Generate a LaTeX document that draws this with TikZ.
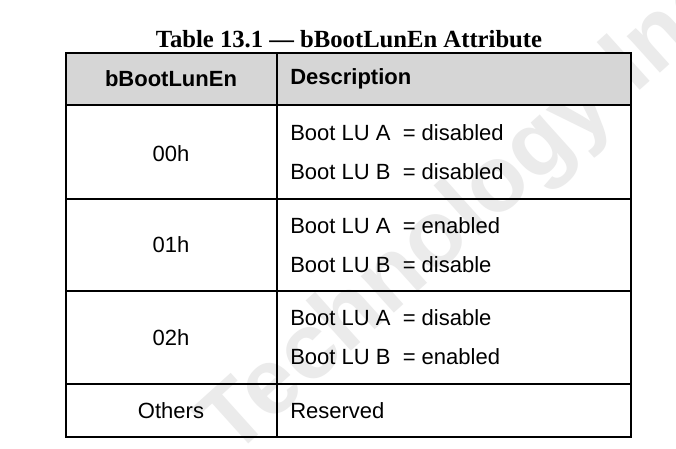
\documentclass[tikz,border=0pt]{standalone}
\usepackage{fontspec}
\setmainfont{Liberation Sans}
\newfontfamily\titlefont{Liberation Serif}
\begin{document}
\begin{tikzpicture}[x=0.75pt,y=-0.75pt,
  cell/.style={font=\fontsize{16.5pt}{18pt}\selectfont, inner sep=0pt},
  grid/.style={line width=1pt, black}]
\useasboundingbox (0,0) rectangle (676,449);
\fill[white] (0,0) rectangle (676,449);
\node[rotate=42, text=black!8, font=\fontsize{70pt}{72pt}\selectfont\bfseries, anchor=center] (wm) at (478,205) {Technology Inc.};
\fill[black!16] (66,53) rectangle (631,105);
\node[font=\titlefont\bfseries\fontsize{18.5pt}{20pt}\selectfont] (title) at (349,39) {Table 13.1 — bBootLunEn Attribute};
\draw[grid] (66,53) rectangle (631,437);
\draw[grid] (277,53) -- (277,437);
\foreach \y in {105,199,291,384} \draw[grid] (66,\y) -- (631,\y);
\node[cell,font=\fontsize{16.5pt}{18pt}\selectfont\bfseries] (h1) at (171,79) {bBootLunEn};
\node[cell,font=\fontsize{16.5pt}{18pt}\selectfont\bfseries,anchor=west] (h2) at (290,79) {Description};
\node[cell] (r1) at (171,154) {00h};
\node[cell] (r2) at (171,245) {01h};
\node[cell] (r3) at (171,338) {02h};
\node[cell] (r4) at (171,411) {Others};
\node[cell,anchor=west] (d1a) at (290,133) {Boot LU A~ = disabled};
\node[cell,anchor=west] (d1b) at (290,172) {Boot LU B~ = disabled};
\node[cell,anchor=west] (d2a) at (290,226) {Boot LU A~ = enabled};
\node[cell,anchor=west] (d2b) at (290,265) {Boot LU B~ = disable};
\node[cell,anchor=west] (d3a) at (290,318) {Boot LU A~ = disable};
\node[cell,anchor=west] (d3b) at (290,357) {Boot LU B~ = enabled};
\node[cell,anchor=west] (d4) at (290,411) {Reserved};
\end{tikzpicture}
\end{document}
